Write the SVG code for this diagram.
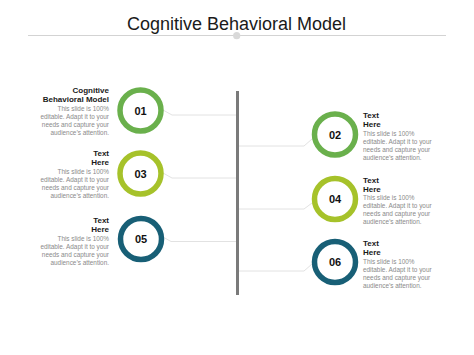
<svg xmlns="http://www.w3.org/2000/svg" width="474" height="355" viewBox="0 0 474 355">
<style>
.title{font-family:"Liberation Sans",Arial,sans-serif;font-size:18px;fill:#1a1a1a;text-anchor:middle}
.hd{font-family:"Liberation Sans",Arial,sans-serif;font-size:8px;font-weight:bold;fill:#1a1a1a}
.bd{font-family:"Liberation Sans",Arial,sans-serif;font-size:6.4px;fill:#8a8a8a}
.l{text-anchor:end}
.num{font-family:"Liberation Sans",Arial,sans-serif;font-size:11px;font-weight:bold;fill:#111;text-anchor:middle}
.ring{fill:#fff;stroke-width:5.5}
.c1{stroke:#6ab04c}
.c2{stroke:#a6c22a}
.c3{stroke:#185f76}
.conn{fill:none;stroke:#e2e2e2;stroke-width:1}
</style>
<rect width="474" height="355" fill="#fff"/>
<g id="header">
<text class="title" x="236.5" y="29.5">Cognitive Behavioral Model</text>
<line x1="28" y1="35.5" x2="446" y2="35.5" stroke="#d3d3d3" stroke-width="1.2"/>
<circle cx="236.7" cy="35.7" r="3.6" fill="#d9d9d9"/>
</g>
<g id="connectors">
<polyline class="conn" points="163,110 172,115 236,115"/>
<polyline class="conn" points="163,173 172,178 236,178"/>
<polyline class="conn" points="163,237 171,241.5 236,241.5"/>
<polyline class="conn" points="239,146 304,146 312,139"/>
<polyline class="conn" points="239,209 304,209 312,203"/>
<polyline class="conn" points="239,271 304,271 312,264"/>
</g>
<g id="spine"><line x1="237.5" y1="91" x2="237.5" y2="295" stroke="#7a7a7a" stroke-width="3"/></g>
<g id="node01">
<circle class="ring c1" cx="140.5" cy="110.5" r="20.5"/>
<text class="num" x="140.5" y="114.5">01</text>
<text class="hd l" x="109" y="93">Cognitive</text>
<text class="hd l" x="109" y="102">Behavioral Model</text>
<text class="bd l" x="109" y="111">This slide is 100%</text>
<text class="bd l" x="109" y="119">editable. Adapt it to your</text>
<text class="bd l" x="109" y="127">needs and capture your</text>
<text class="bd l" x="109" y="135">audience’s attention.</text>
</g>
<g id="node03">
<circle class="ring c2" cx="140.5" cy="173.5" r="20.5"/>
<text class="num" x="140.5" y="177.5">03</text>
<text class="hd l" x="109" y="156">Text</text>
<text class="hd l" x="109" y="165">Here</text>
<text class="bd l" x="109" y="174">This slide is 100%</text>
<text class="bd l" x="109" y="182">editable. Adapt it to your</text>
<text class="bd l" x="109" y="190">needs and capture your</text>
<text class="bd l" x="109" y="198">audience’s attention.</text>
</g>
<g id="node05">
<circle class="ring c3" cx="141" cy="239" r="20.5"/>
<text class="num" x="141" y="243">05</text>
<text class="hd l" x="109" y="222.5">Text</text>
<text class="hd l" x="109" y="231.5">Here</text>
<text class="bd l" x="109" y="241">This slide is 100%</text>
<text class="bd l" x="109" y="249">editable. Adapt it to your</text>
<text class="bd l" x="109" y="257">needs and capture your</text>
<text class="bd l" x="109" y="265">audience’s attention.</text>
</g>
<g id="node02">
<circle class="ring c1" cx="335" cy="134.5" r="20.5"/>
<text class="num" x="335" y="138.5">02</text>
<text class="hd" x="363" y="118">Text</text>
<text class="hd" x="363" y="127">Here</text>
<text class="bd" x="363" y="136">This slide is 100%</text>
<text class="bd" x="363" y="144">editable. Adapt it to your</text>
<text class="bd" x="363" y="152">needs and capture your</text>
<text class="bd" x="363" y="160">audience’s attention.</text>
</g>
<g id="node04">
<circle class="ring c2" cx="335" cy="199" r="20.5"/>
<text class="num" x="335" y="203">04</text>
<text class="hd" x="363" y="182.5">Text</text>
<text class="hd" x="363" y="191.5">Here</text>
<text class="bd" x="363" y="200">This slide is 100%</text>
<text class="bd" x="363" y="208">editable. Adapt it to your</text>
<text class="bd" x="363" y="216">needs and capture your</text>
<text class="bd" x="363" y="224">audience’s attention.</text>
</g>
<g id="node06">
<circle class="ring c3" cx="335" cy="262" r="20.5"/>
<text class="num" x="335" y="266">06</text>
<text class="hd" x="363" y="246">Text</text>
<text class="hd" x="363" y="255">Here</text>
<text class="bd" x="363" y="263.5">This slide is 100%</text>
<text class="bd" x="363" y="271.5">editable. Adapt it to your</text>
<text class="bd" x="363" y="279.5">needs and capture your</text>
<text class="bd" x="363" y="287.5">audience’s attention.</text>
</g>
</svg>
